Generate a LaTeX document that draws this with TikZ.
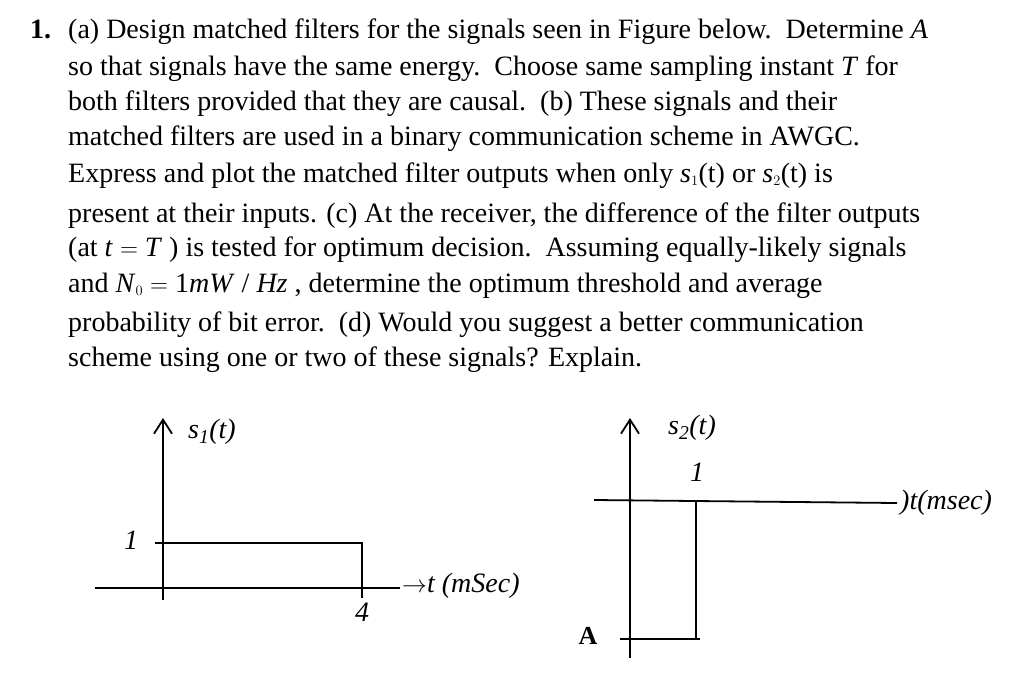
\documentclass[tikz,border=0pt]{standalone}
\usepackage{fontspec}
\setmainfont{Liberation Serif}
\usetikzlibrary{arrows.meta}
\begin{document}
\begin{tikzpicture}[x=1pt,y=-1pt,
  txt/.style={anchor=base west,inner sep=0pt,font=\fontsize{28}{32}\selectfont},
  hand/.style={font=\fontsize{28}{32}\selectfont\itshape,inner sep=0pt},
  ax/.style={line width=1.8pt},
  arr/.style={ax,-{Straight Barb[length=14pt,width=18pt]}}]
\useasboundingbox (0,0) rectangle (1024,675);
\node[txt,font=\fontsize{28}{32}\selectfont\bfseries] (n1) at (30,38) {1.};
\node[txt] (l1) at (68,38) {(a) Design matched filters for the signals seen in Figure below.\ \ Determine \textit{A}};
\node[txt] (l2) at (68,75) {so that signals have the same energy.\ \ Choose same sampling instant \textit{T} for};
\node[txt] (l3) at (68,110) {both filters provided that they are causal.\ \ (b) These signals and their};
\node[txt] (l4) at (68,145) {matched filters are used in a binary communication scheme in AWGC.};
\node[txt] (l5) at (68,182) {Express and plot the matched filter outputs when only \textit{s}$_{\scriptscriptstyle 1}$(t) or \textit{s}$_{\scriptscriptstyle 2}$(t) is};
\node[txt] (l6) at (68,222) {present at their inputs. (c) At the receiver, the difference of the filter outputs};
\node[txt] (l7) at (68,256) {(at \textit{t} $=$ \textit{T} ) is tested for optimum decision.\ \ Assuming equally-likely signals};
\node[txt] (l8) at (68,292) {and \textit{N}$_{\scriptscriptstyle 0}$ $=$ 1\textit{mW} / \textit{Hz} , determine the optimum threshold and average};
\node[txt] (l9) at (68,331) {probability of bit error.\ \ (d) Would you suggest a better communication};
\node[txt] (l10) at (68,366) {scheme using one or two of these signals? Explain.};
% diagram 1
\coordinate (y1) at (163,418);
\coordinate (y1b) at (163,600);
\draw[arr] (y1b) -- (y1);
\draw[ax] (95,588) -- (400,588);
\draw[ax] (155,543) -- (362,543) -- (362,598);
\node[hand] (s1) at (212,432) {s\textsubscript{1}(t)};
\node[hand] (one1) at (131,540) {1};
\node[hand] (four) at (362,612) {4};
\node[hand,anchor=west] (t1) at (402,586) {$\to$t (mSec)};
% diagram 2
\coordinate (y2) at (630,418);
\coordinate (y2b) at (630,658);
\draw[arr] (y2b) -- (y2);
\draw[ax] (594,500) -- (897,503);
\draw[ax] (696,500) -- (696,638);
\draw[ax] (620,639) -- (700,639);
\node[hand] (s2) at (692,428) {s\textsubscript{2}(t)};
\node[hand] (one2) at (697,472) {1};
\node[hand,font=\fontsize{26}{30}\selectfont\bfseries] (A) at (588,636) {A};
\node[hand,anchor=west] (t2) at (900,503) {)t(msec)};
\end{tikzpicture}
\end{document}
